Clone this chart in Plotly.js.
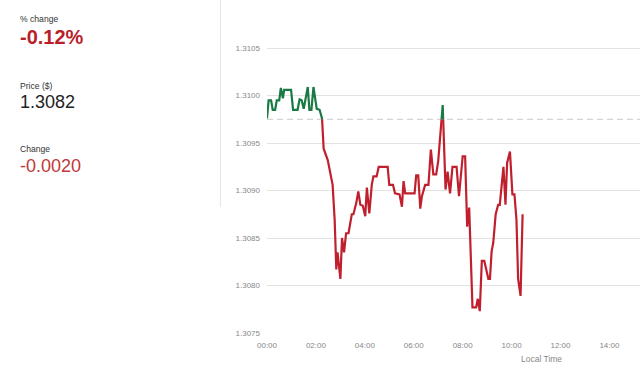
<!DOCTYPE html>
<html>
<head>
<meta charset="utf-8">
<script src="https://cdn.plot.ly/plotly-3.0.1.min.js"></script>
<style>
  html, body { margin:0; padding:0; background:#fff; width:640px; height:378px; overflow:hidden; font-family:"Liberation Sans", Arial, sans-serif; }
  #chart { position:absolute; left:0; top:0; width:640px; height:378px; }
  .lbl { position:absolute; left:20px; line-height:1; white-space:nowrap; }
  .small { font-size:8.6px; color:#333; }
  #sep { position:absolute; left:220px; top:0; width:1px; height:207px; background:#e6e6e6; }
</style>
</head>
<body>
<div id="chart"></div>
<div id="sep"></div>
<div class="lbl small" style="top:15px;">% change</div>
<div class="lbl" style="top:27.4px;font-size:20px;font-weight:bold;color:#b81f2b;">-0.12%</div>
<div class="lbl small" style="top:81.7px;">Price ($)</div>
<div class="lbl" style="top:93px;font-size:18px;color:#222;">1.3082</div>
<div class="lbl small" style="top:145.4px;">Change</div>
<div class="lbl" style="top:156.8px;font-size:18px;color:#c0393b;">-0.0020</div>
<script>
// ---- data ----
const times = ["00:00","00:04","00:10","00:14","00:20","00:24","00:30","00:34","00:39","00:42","00:59","01:04","01:15","01:20","01:25","01:30","01:40","01:44","01:49","01:54","02:02","02:09","02:15",
"02:19","02:29","02:41","02:46","02:50","02:53","02:56","03:00","03:04","03:09","03:14","03:20","03:28","03:32","03:39","03:44","03:49","03:55","04:01","04:05","04:11","04:17","04:21","04:29","04:34","04:56","05:00","05:09","05:14","05:25","05:31","05:35","05:39","06:02","06:06","06:11","06:16","06:20","06:28","06:36","06:42","06:48","06:55","07:00","07:11","07:18","07:23","07:29","07:35","07:45","07:51","08:00","08:06","08:11","08:16","08:24","08:33","08:37","08:42","08:47","08:53","09:03","09:07","09:11","09:15","09:21","09:27","09:31","09:40","09:45","09:49","09:56","10:02","10:07","10:12","10:16","10:22","10:27"];
const prices = [1.30976,1.30995,1.30995,1.30985,1.30985,1.30995,1.30995,1.31008,1.30997,1.31006,1.31006,1.30985,1.30985,1.30996,1.30995,1.30986,1.31009,1.30985,1.30985,1.31009,1.30986,1.30985,1.30976,
1.30944,1.30932,1.30906,1.30869,1.30817,1.30835,1.30824,1.30807,1.30850,1.30835,1.30855,1.30855,1.30875,1.30875,1.30887,1.30899,1.30885,1.30884,1.30873,1.30903,1.30876,1.30906,1.30915,1.30915,1.30925,1.30925,1.30906,1.30906,1.30897,1.30896,1.30883,1.30910,1.30897,1.30897,1.30916,1.30916,1.30881,1.30894,1.30906,1.30906,1.30943,1.30917,1.30917,1.30931,1.30990,1.30901,1.30920,1.30897,1.30925,1.30925,1.30894,1.30936,1.30936,1.30862,1.30882,1.30777,1.30777,1.30786,1.30773,1.30826,1.30826,1.30807,1.30807,1.30836,1.30845,1.30875,1.30885,1.30885,1.30925,1.30885,1.30929,1.30941,1.30896,1.30896,1.30869,1.30807,1.30789,1.30875];
const previousClose = 1.30975;
const xTickLabels = ["00:00","02:00","04:00","06:00","08:00","10:00","12:00","14:00"];
const day = "2024-01-01";
const xEnd = "15:15";

// ---- build up/down segments ----
const toMs = t => new Date(day + "T" + t + ":00Z").getTime();
const fmt = ms => new Date(ms).toISOString().replace("T"," ").replace("Z","");
const gx=[], gy=[], rx=[], ry=[];
let prevAbove = null;
for (let i=0;i<times.length;i++){
  const t = toMs(times[i]), v = prices[i];
  const above = v >= previousClose;
  if (i>0 && above !== prevAbove){
    const t0 = toMs(times[i-1]), v0 = prices[i-1];
    const f = (previousClose - v0)/(v - v0);
    const tc = fmt(t0 + f*(t - t0));
    if (prevAbove){ gx.push(tc, null); gy.push(previousClose, null); rx.push(tc); ry.push(previousClose); }
    else { rx.push(tc, null); ry.push(previousClose, null); gx.push(tc); gy.push(previousClose); }
  }
  if (above){ gx.push(fmt(t)); gy.push(v); } else { rx.push(fmt(t)); ry.push(v); }
  prevAbove = above;
}

const traces = [
  {x: rx, y: ry, type:'scatter', mode:'lines', line:{color:'#c0202e', width:2.2}, connectgaps:false, hoverinfo:'skip'},
  {x: gx, y: gy, type:'scatter', mode:'lines', line:{color:'#1a7a45', width:2.2}, connectgaps:false, hoverinfo:'skip'}
];

const layout = {
  width:640, height:378,
  margin:{l:267, r:0, t:0, b:45, pad:0},
  paper_bgcolor:'#fff', plot_bgcolor:'#fff',
  showlegend:false,
  font:{family:'"Liberation Sans", Arial, sans-serif', size:8, color:'#888'},
  xaxis:{
    type:'date',
    range:[fmt(toMs("00:00")), fmt(toMs(xEnd))],
    tickvals: xTickLabels.map(t=>fmt(toMs(t))),
    ticktext: xTickLabels,
    showgrid:false, zeroline:false, showline:false, ticks:'',
    tickfont:{size:8, color:'#888'},
    ticklabelstandoff:6
  },
  yaxis:{
    range:[1.3075, 1.311006],
    dtick:0.0005, tick0:1.3075, tickformat:'.4f',
    showgrid:true, gridcolor:'#e2e2e2', gridwidth:1,
    zeroline:false, showline:false, ticks:'',
    tickfont:{size:8, color:'#888'},
    ticklabelstandoff:6
  },
  shapes:[{type:'line', xref:'paper', x0:0, x1:1, yref:'y', y0:previousClose, y1:previousClose,
           line:{color:'#c8c8c8', width:1, dash:'6px,4px'}, layer:'below'}],
  annotations:[{text:'Local Time', xref:'paper', yref:'paper', x:0.7367, y:0, yshift:-26,
                showarrow:false, xanchor:'center', yanchor:'middle', font:{size:8.5, color:'#888'}}]
};

Plotly.newPlot('chart', traces, layout, {staticPlot:true, displayModeBar:false});
</script>
</body>
</html>
